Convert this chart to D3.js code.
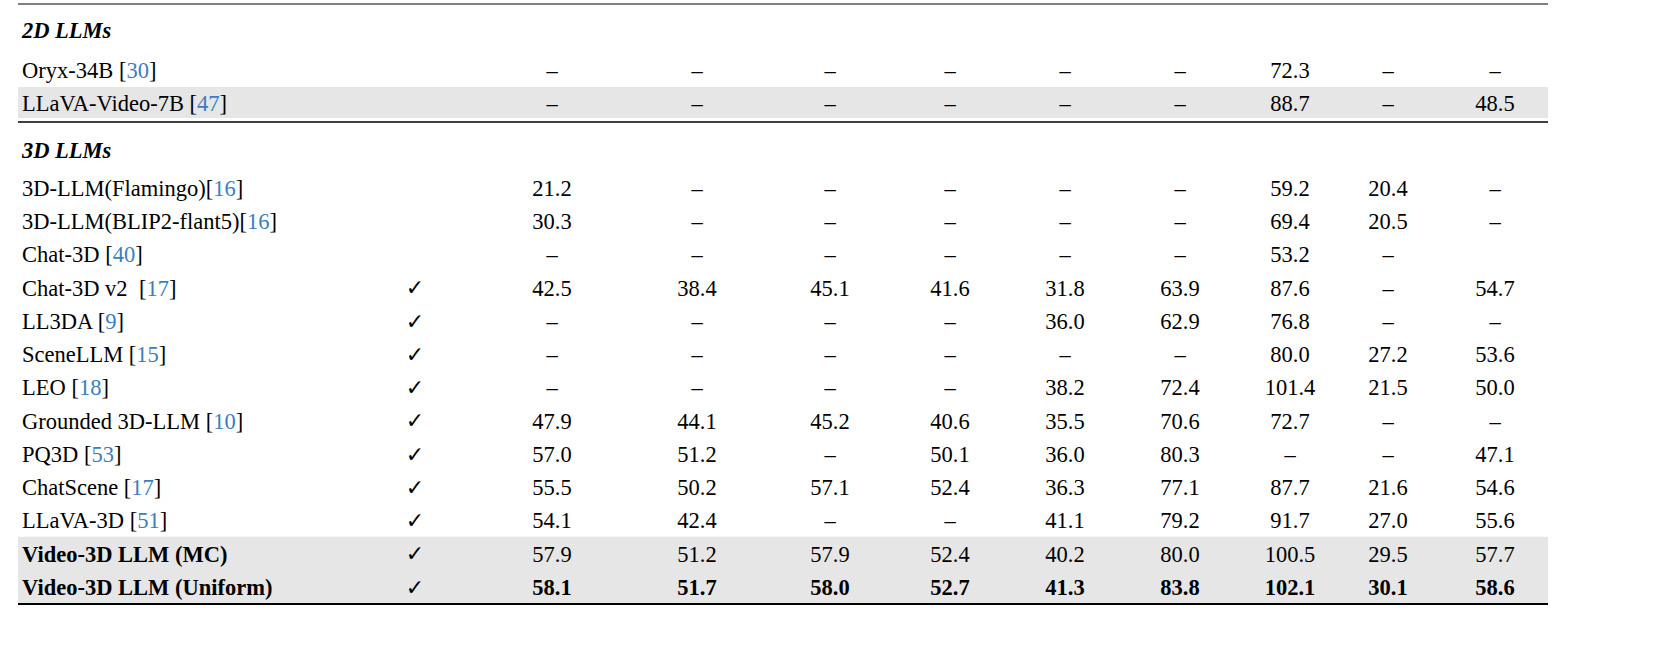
<!DOCTYPE html>
<html><head><meta charset="utf-8">
<script src="https://cdn.jsdelivr.net/npm/d3@7"></script>
<style>body{margin:0;background:#fff}</style></head>
<body><svg id="c" width="1668" height="648"></svg>
<script>
const D="–";
const names2D=["Oryx-34B ","LLaVA-Video-7B "];
const cites2D=["30","47"];
const vals2D=[[D,D,D,D,D,D,"72.3",D,D],[D,D,D,D,D,D,"88.7",D,"48.5"]];
const names3D=["3D-LLM(Flamingo)","3D-LLM(BLIP2-flant5)","Chat-3D ","Chat-3D v2\u00a0 ","LL3DA ","SceneLLM ","LEO ","Grounded 3D-LLM ","PQ3D ","ChatScene ","LLaVA-3D ","Video-3D LLM (MC)","Video-3D LLM (Uniform)"];
const cites3D=["16","16","40","17","9","15","18","10","53","17","51",null,null];
const checks3D=[0,0,0,1,1,1,1,1,1,1,1,1,1];
const bold3D=[0,0,0,0,0,0,0,0,0,0,0,0,1];
const nameBold3D=[0,0,0,0,0,0,0,0,0,0,0,1,1];
const vals3D=[
["21.2",D,D,D,D,D,"59.2","20.4",D],
["30.3",D,D,D,D,D,"69.4","20.5",D],
[D,D,D,D,D,D,"53.2",D,""],
["42.5","38.4","45.1","41.6","31.8","63.9","87.6",D,"54.7"],
[D,D,D,D,"36.0","62.9","76.8",D,D],
[D,D,D,D,D,D,"80.0","27.2","53.6"],
[D,D,D,D,"38.2","72.4","101.4","21.5","50.0"],
["47.9","44.1","45.2","40.6","35.5","70.6","72.7",D,D],
["57.0","51.2",D,"50.1","36.0","80.3",D,D,"47.1"],
["55.5","50.2","57.1","52.4","36.3","77.1","87.7","21.6","54.6"],
["54.1","42.4",D,D,"41.1","79.2","91.7","27.0","55.6"],
["57.9","51.2","57.9","52.4","40.2","80.0","100.5","29.5","57.7"],
["58.1","51.7","58.0","52.7","41.3","83.8","102.1","30.1","58.6"]];
const colCenters=[552,697,830,950,1065,1180,1290,1388,1495];

const svg=d3.select("#c");
const F="'Liberation Serif','DejaVu Serif',serif";
const FS=22.5;
const x=d3.scaleOrdinal().domain(d3.range(9)).range(colCenters);
const y2=d3.scaleLinear().domain([0,1]).range([70,103]);
const y3=d3.scaleLinear().domain([0,12]).range([188,587]);
svg.append("rect").attr("x",18).attr("width",1530).attr("y",y2(1)-16).attr("height",31).attr("fill","#e6e6e6");
svg.append("rect").attr("x",18).attr("width",1530).attr("y",y3(11)-17).attr("height",y3(12)-y3(11)+33).attr("fill","#e6e6e6");
[[4,1],[122,1.5],[604,2]].forEach(([yy,w])=>svg.append("line").attr("x1",18).attr("x2",1548).attr("y1",yy).attr("y2",yy).attr("stroke","#000").attr("stroke-width",w));
const txt=(xx,yy,s)=>svg.append("text").attr("x",xx).attr("y",yy).attr("dy","0.35em").attr("font-family",F).attr("font-size",FS).attr("fill","#000").text(s);
txt(22,30,"2D LLMs").attr("font-weight","bold").attr("font-style","italic");
txt(22,150,"3D LLMs").attr("font-weight","bold").attr("font-style","italic");
function row(yy,name,cite,chk,vals,bold,nbold){
  const t=txt(22,yy,"").attr("font-weight",nbold?"bold":null);
  t.append("tspan").text(name);
  if(cite){t.append("tspan").text("[");t.append("tspan").attr("fill","#3b7dbf").text(cite);t.append("tspan").text("]");}
  if(chk) txt(415,yy,"✓").attr("text-anchor","middle").attr("font-family","'DejaVu Sans',sans-serif").attr("font-size",22);
  vals.forEach((v,i)=>txt(x(i),yy,v).attr("text-anchor","middle").attr("font-weight",bold?"bold":null));
}
names2D.forEach((n,i)=>row(y2(i),n,cites2D[i],0,vals2D[i],0,0));
names3D.forEach((n,i)=>row(y3(i),n,cites3D[i],checks3D[i],vals3D[i],bold3D[i],nameBold3D[i]));
</script></body></html>
